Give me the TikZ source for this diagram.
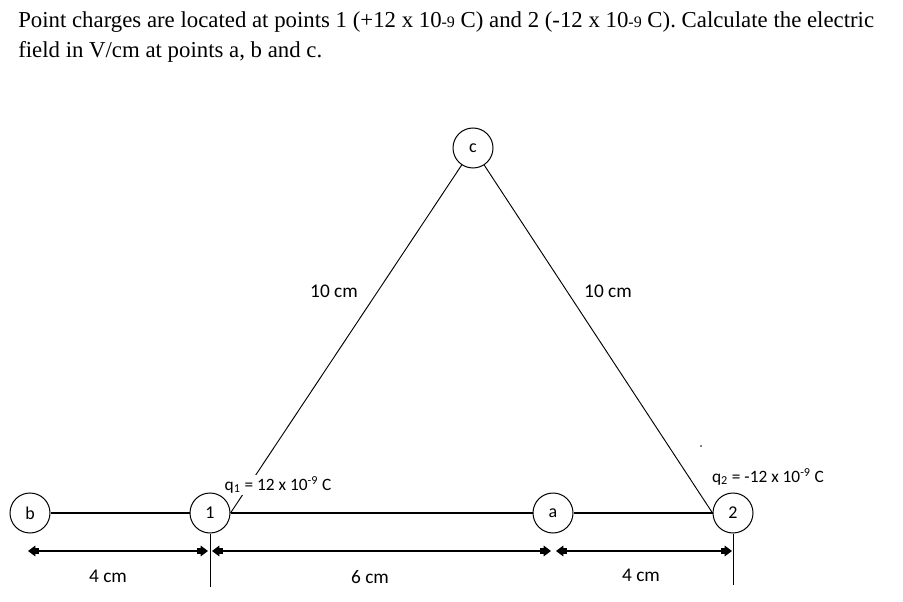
\documentclass[tikz,border=0pt]{standalone}
\usepackage{fontspec}
\setmainfont{Liberation Serif}
\newfontfamily\calib{Carlito}
\usetikzlibrary{arrows.meta}
\begin{document}
\begin{tikzpicture}[x=0.75pt,y=-0.75pt,
  ptnode/.style={draw, circle, minimum size=30pt, inner sep=0pt, line width=0.75pt, font=\calib\fontsize{13.5}{15}\selectfont},
  lbl/.style={font=\calib\fontsize{14.5}{16}\selectfont, inner sep=1pt},
  qlbl/.style={font=\calib\fontsize{13}{15}\selectfont, inner sep=1pt},
  hdr/.style={anchor=base west, inner sep=0pt, font=\fontsize{17.1}{20}\selectfont},
  dimline/.style={line width=0.8pt,
    {Triangle[length=5.5pt,width=8pt,sep=0pt] Rectangle[length=3pt,width=4.4pt,sep=0pt]}-{Rectangle[length=3pt,width=4.4pt,sep=0pt] Triangle[length=5.5pt,width=8pt,sep=0pt]}},
  sideline/.style={line width=0.7pt},
  baseline/.style={line width=0.9pt},
 ]
\useasboundingbox (0,0) rectangle (903,602);
\newcommand{\sm}[1]{{\fontsize{12}{14}\selectfont #1}}
% header
\node[hdr] (h1) at (18,28) {Point charges are located at points 1 (+12 x 10\sm{-9} C) and 2 (-12 x 10\sm{-9} C). Calculate the electric};
\node[hdr] (h2) at (18,58) {field in V/cm at points a, b and c.};
% points
\node[ptnode] (b) at (30,513) {b};
\node[ptnode] (p1) at (210,513) {1};
\node[ptnode] (a) at (553,513) {a};
\node[ptnode] (p2) at (733,513) {2};
\node[ptnode] (c) at (473,148) {c};
% horizontal line
\draw[baseline] (b) -- (p1) -- (a) -- (p2);
% triangle sides
\draw[sideline] (c) -- (p1.east);
\draw[sideline] (c) -- (p2.west);
% labels
\node[qlbl, fill=white] (q1) at (278,485) {q\textsubscript{1} = 12 x 10\textsuperscript{-9} C};
\node[qlbl] (q2) at (768,477) {q\textsubscript{2} = -12 x 10\textsuperscript{-9} C};
\node[lbl] (l1) at (334,291) {10 cm};
\node[lbl] (l2) at (608,291) {10 cm};
\fill (701,446) circle (0.8);
% dimension
\coordinate (d0) at (28,551);
\coordinate (d1) at (208,551);
\coordinate (d1b) at (212,551);
\coordinate (d2) at (551,551);
\coordinate (d2b) at (556,551);
\coordinate (d3) at (732,551);
\coordinate (t1) at (210,587);
\coordinate (t2) at (733,585);
\draw[sideline] (p1.south) -- (t1);
\draw[sideline] (p2.south) -- (t2);
\draw[dimline] (d0) -- (d1);
\draw[dimline] (d1b) -- (d2);
\draw[dimline] (d2b) -- (d3);
\node[lbl] (m1) at (108,576) {4 cm};
\node[lbl] (m2) at (370,577) {6 cm};
\node[lbl] (m3) at (641,575) {4 cm};
\end{tikzpicture}
\end{document}
